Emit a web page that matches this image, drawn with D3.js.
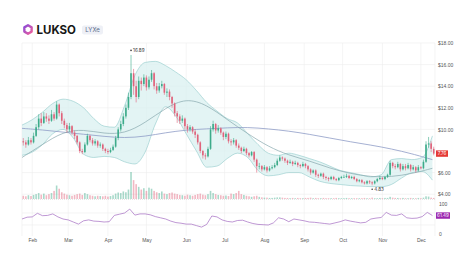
<!DOCTYPE html>
<html lang="en">
<head>
<meta charset="utf-8">
<title>LUKSO LYXe</title>
<script src="https://cdn.jsdelivr.net/npm/d3@7"></script>
<style>
  body { margin: 0; background: #fff; }
  svg { display: block; font-family: "Inter", "Liberation Sans", sans-serif; }
  .grid line { stroke: #ededed; stroke-width: 0.6; }
  .axis text { fill: #555; font-size: 5px; }
  .axis path, .axis line { display: none; }
</style>
</head>
<body>
<script>
// two-day candles starting 24 Jan, open = previous close
const firstOpen = 8.9
const closes = [8.8,8.6,9.0,8.8,9.4,10.2,11.0,10.6,11.2,11.0,
  10.8,11.4,11.0,12.3,11.5,10.8,10.4,10.0,10.3,9.7,
  9.4,8.8,8.0,7.9,8.6,9.4,9.0,8.7,8.9,8.5,
  8.6,8.2,8.0,7.9,8.1,8.4,9.2,10.0,10.5,11.2,
  12.0,13.0,15.2,14.0,13.0,14.5,14.2,14.8,13.9,14.6,
  15.2,14.0,13.6,14.0,14.2,13.4,13.5,13.0,12.4,11.5,
  11.2,10.8,11.0,10.3,10.0,10.2,9.8,9.5,8.8,8.0,
  7.6,7.5,8.2,10.0,10.5,9.9,10.1,9.7,9.3,9.6,
  8.9,8.8,9.0,8.5,8.3,8.0,8.2,7.8,7.6,7.9,
  7.2,6.6,6.6,6.3,6.5,6.2,6.4,6.5,6.7,7.1,
  7.4,7.3,7.1,6.9,7.0,6.8,6.9,6.7,6.6,6.8,
  6.6,6.3,6.0,6.2,5.8,5.7,5.9,5.6,5.5,5.4,
  5.6,5.4,5.3,5.5,5.6,5.6,5.7,5.5,5.6,5.4,
  5.2,5.3,5.1,5.0,5.2,5.1,5.0,5.2,5.4,5.5,
  5.4,5.6,5.8,6.9,6.6,6.5,6.8,6.3,6.6,6.4,
  6.7,6.3,6.5,6.2,6.5,6.4,7.0,8.6,8.7,8.2,
  7.76]
const highs = [9.2,9.0,9.3,9.2,9.7,10.5,11.4,11.5,11.6,11.5,
  11.3,11.8,11.6,12.6,12.4,11.7,11.0,10.6,10.6,10.4,
  9.9,9.5,8.9,8.2,8.8,9.6,9.5,9.2,9.1,9.0,
  8.8,8.7,8.3,8.2,8.3,8.6,9.4,10.2,10.8,11.5,
  12.3,13.4,16.89,15.6,14.5,14.9,14.8,15.1,15.0,14.9,
  15.5,15.3,14.3,14.3,14.5,14.3,13.8,13.7,13.1,12.5,
  11.7,11.4,11.3,11.1,10.5,10.4,10.3,10.0,9.6,8.9,
  8.1,7.8,8.4,10.3,10.8,10.6,10.4,10.2,9.8,9.8,
  9.7,9.1,9.2,9.1,8.7,8.4,8.4,8.3,7.9,8.0,
  8.0,7.3,6.9,6.7,6.7,6.6,6.6,6.7,6.9,7.3,
  7.6,7.5,7.4,7.2,7.2,7.1,7.1,7.0,6.8,7.0,
  6.9,6.7,6.4,6.3,6.3,5.9,6.0,6.0,5.7,5.6,
  5.7,5.7,5.5,5.6,5.7,5.8,5.9,5.8,5.7,5.7,
  5.5,5.4,5.4,5.2,5.3,5.3,5.2,5.3,5.5,5.7,
  5.6,5.7,5.9,7.1,7.0,6.8,7.0,6.9,6.8,6.8,
  6.9,6.8,6.7,6.6,6.7,6.6,7.2,8.9,9.3,8.9,
  8.4]
const lows = [8.5,8.3,8.5,8.6,8.7,9.3,10.0,10.3,10.5,10.7,
  10.5,10.7,10.8,10.9,11.2,10.5,10.1,9.7,9.8,9.5,
  9.1,8.6,7.8,7.7,7.8,8.5,8.8,8.5,8.5,8.3,
  8.3,8.0,7.8,7.7,7.8,8.0,8.3,9.0,9.8,10.3,
  11.0,11.8,12.8,13.2,12.5,12.8,13.6,14.0,13.6,13.7,
  14.4,13.7,13.3,13.4,13.8,13.2,13.0,12.7,12.0,11.2,
  10.6,10.5,10.6,10.0,9.7,9.8,9.6,9.2,8.6,7.8,
  7.3,7.2,7.4,8.1,9.8,9.6,9.7,9.5,9.0,9.1,
  8.7,8.5,8.6,8.3,8.1,7.8,7.9,7.6,7.4,7.5,
  7.0,6.0,6.3,6.1,6.2,6.0,6.1,6.3,6.4,6.6,
  7.0,7.1,6.9,6.7,6.8,6.6,6.7,6.5,6.4,6.5,
  6.4,6.1,5.8,5.9,5.6,5.5,5.6,5.4,5.3,5.2,
  5.3,5.3,5.2,5.2,5.4,5.5,5.5,5.4,5.4,5.3,
  5.1,5.1,5.0,4.9,4.9,4.95,4.83,4.9,5.1,5.3,
  5.3,5.3,5.5,5.7,6.4,6.3,6.4,6.1,6.2,6.2,
  6.3,6.1,6.2,6.0,6.1,6.3,6.3,6.9,8.3,7.9,
  7.6]
// volume, relative units (100 = tallest bar)
const volumes = [12,10,14,11,15,18,22,16,20,14,
  18,22,30,50,38,25,20,16,14,12,
  15,18,20,15,22,18,14,12,10,12,
  11,10,12,9,11,14,20,24,22,28,
  25,35,100,70,55,45,35,40,30,42,
  38,30,25,22,28,20,18,22,24,20,
  18,15,14,12,16,14,12,15,18,20,
  16,14,18,30,22,18,15,14,12,13,
  11,20,18,22,30,18,15,12,10,8,
  10,12,8,6,5,5,4,4,5,6,
  6,5,4,4,3,4,3,4,3,3,
  4,4,5,3,4,3,3,4,3,3,
  3,3,4,3,3,3,4,3,3,3,
  3,3,3,4,3,3,5,3,3,4,
  3,4,4,8,5,4,4,3,4,3,
  3,4,3,3,4,3,5,10,9,5,
  4]
// bollinger band, every 4th candle
const bandUpper = [10.4,10.9,11.6,12.4,12.8,12.6,12.0,11.0,10.3,10.2,12.2,15.0,16.2,16.3,15.9,15.3,14.6,13.6,12.5,11.7,
  11.0,10.6,9.6,8.6,7.8,7.6,7.8,7.6,7.3,7.0,6.6,6.2,6.0,5.8,5.6,5.8,7.2,7.3,7.2,7.4,9.4]
const bandLower = [7.6,7.9,8.6,9.6,10.0,9.2,7.7,7.4,7.5,7.4,7.0,6.8,7.9,10.5,12.1,11.2,9.6,8.0,6.5,6.6,
  7.3,7.8,7.4,6.2,5.7,5.8,6.0,6.0,5.6,5.2,5.0,4.9,4.8,4.75,4.7,4.7,4.9,5.5,6.0,6.1,5.3]
// moving averages, every 8th candle
const maLong = [10.1,9.95,9.75,9.55,9.35,9.2,9.35,9.7,9.95,10.05,10.15,10.2,10.05,9.85,9.55,9.2,8.85,8.55,8.2,7.75,7.2]
const maMid = [7.4,8.6,9.8,10.0,9.6,9.6,10.6,12.0,12.9,12.3,10.9,9.6,8.4,7.6,7.1,6.4,5.9,5.6,5.6,5.9,6.4]
// rsi, every 2nd candle
const rsi = [50,56,57,69,61,62,67,57,50,47,
  40,33,44,47,43,42,40,41,62,66,
  70,83,63,67,67,64,58,54,50,43,
  38,36,33,33,28,23,32,60,57,47,
  42,40,45,46,40,35,32,31,30,37,
  54,50,41,50,47,44,40,39,37,35,
  33,37,41,47,43,40,37,39,50,53,
  55,72,63,62,67,54,52,53,58,72,
  61.49]
const priceTicks = [4, 6, 8, 10, 12, 14, 16, 18]
// $8.00 sits under the last-price badge, so it is left out of the labels
const priceLabels = [4, 6, 10, 12, 14, 16, 18]

let w = 474, h = 266
let left = 22, right = 435
let upColor = "#3dab8a", downColor = "#e0627a"

let start = new Date(2022, 0, 24)
let dates = closes.map((c, i) => d3.timeDay.offset(start, 2 * i))
let opens = closes.map((c, i) => i == 0 ? firstOpen : closes[i - 1])

let x = d3.scaleTime().domain([start, new Date(2022, 11, 12)]).range([left, right])
let y = d3.scaleLinear().domain([4, 18]).range([194.2, 43])
let yVol = d3.scaleLinear().domain([0, 100]).range([199, 172])
let yRsi = d3.scaleLinear().domain([0, 100]).range([234, 204])
let step = x(d3.timeDay.offset(start, 2)) - x(start)
let cx = (i) => x(dates[i]) + step / 2
let bodyW = step * 0.62

let svg = d3.select("body").append("svg").attr("width", w).attr("height", h)

// header
let defs = svg.append("defs")
let grad = defs.append("linearGradient").attr("id", "logo").attr("x1", 0).attr("y1", 0).attr("x2", 1).attr("y2", 1)
grad.append("stop").attr("offset", "0%").attr("stop-color", "#8a4bd8")
grad.append("stop").attr("offset", "100%").attr("stop-color", "#ee5f9c")
let hex = d3.range(6).map(k => {
  let a = Math.PI / 3 * k + Math.PI / 6
  return [28 + 4.2 * Math.cos(a), 29.5 + 4.2 * Math.sin(a)]
})
svg.append("path").attr("d", d3.line().curve(d3.curveLinearClosed)(hex))
  .attr("fill", "#fff").attr("stroke", "url(#logo)").attr("stroke-width", 2.4).attr("stroke-linejoin", "round")
svg.append("text").attr("x", 36.5).attr("y", 34).text("LUKSO")
  .attr("font-size", 11.5).attr("font-weight", 700).attr("fill", "#161616")
svg.append("rect").attr("x", 82).attr("y", 25.5).attr("width", 21).attr("height", 9).attr("rx", 2).attr("fill", "#eef0f6")
svg.append("text").attr("x", 92.5).attr("y", 32.2).attr("text-anchor", "middle").text("LYXe")
  .attr("font-size", 6).attr("fill", "#5b6a8c")

// grid
let grid = svg.append("g").attr("class", "grid")
grid.selectAll(".v").data(x.ticks(d3.timeMonth.every(1))).enter().append("line")
  .attr("x1", d => x(d)).attr("x2", d => x(d)).attr("y1", 43).attr("y2", 236)
grid.selectAll(".h").data(priceTicks).enter().append("line")
  .attr("x1", left).attr("x2", right).attr("y1", d => y(d)).attr("y2", d => y(d))
grid.selectAll(".r").data([70, 30]).enter().append("line")
  .attr("x1", left).attr("x2", right).attr("y1", d => yRsi(d)).attr("y2", d => yRsi(d))
grid.append("line").attr("x1", left).attr("x2", left).attr("y1", 43).attr("y2", 236)
grid.append("line").attr("x1", right).attr("x2", right).attr("y1", 43).attr("y2", 236)
svg.append("line").attr("x1", left).attr("x2", right).attr("y1", 199.5).attr("y2", 199.5)
  .attr("stroke", "#d6d6d6").attr("stroke-width", 0.6).attr("stroke-dasharray", "1,1")

// volume
svg.append("g").selectAll("rect").data(volumes).enter().append("rect")
  .attr("x", (d, i) => cx(i) - bodyW / 2).attr("width", bodyW)
  .attr("y", d => yVol(d)).attr("height", d => yVol(0) - yVol(d))
  .attr("fill", (d, i) => closes[i] >= opens[i] ? upColor : downColor).attr("opacity", 0.45)

// bollinger band
let bandDates = bandUpper.map((d, k) => dates[4 * k])
let bandG = svg.append("g")
bandG.append("path").datum(bandUpper)
  .attr("d", d3.area().x((d, k) => x(bandDates[k])).y0((d, k) => y(bandLower[k])).y1(d => y(d)).curve(d3.curveMonotoneX))
  .attr("fill", "#d9f0f0").attr("opacity", 0.75)
;[bandUpper, bandLower].forEach(arr => {
  bandG.append("path").datum(arr)
    .attr("d", d3.line().x((d, k) => x(bandDates[k])).y(d => y(d)).curve(d3.curveMonotoneX))
    .attr("fill", "none").attr("stroke", "#8ecaca").attr("stroke-width", 0.6)
})

// moving averages
let maDates = maLong.map((d, k) => dates[8 * k])
let maLine = d3.line().x((d, k) => x(maDates[k])).y(d => y(d)).curve(d3.curveBasis)
svg.append("path").datum(maLong).attr("d", maLine)
  .attr("fill", "none").attr("stroke", "#8e9cc6").attr("stroke-width", 0.8)
svg.append("path").datum(maMid).attr("d", maLine)
  .attr("fill", "none").attr("stroke", "#86a7ad").attr("stroke-width", 0.7)

// candles
let candles = svg.append("g").selectAll("g").data(closes).enter().append("g")
  .attr("fill", (d, i) => d >= opens[i] ? upColor : downColor)
  .attr("stroke", (d, i) => d >= opens[i] ? upColor : downColor)
candles.append("line")
  .attr("x1", (d, i) => cx(i)).attr("x2", (d, i) => cx(i))
  .attr("y1", (d, i) => y(highs[i])).attr("y2", (d, i) => y(lows[i])).attr("stroke-width", 0.6)
candles.append("rect")
  .attr("x", (d, i) => cx(i) - bodyW / 2).attr("width", bodyW)
  .attr("y", (d, i) => y(Math.max(d, opens[i])))
  .attr("height", (d, i) => Math.max(0.6, Math.abs(y(d) - y(opens[i])))).attr("stroke", "none")

// high / low markers
let hiIdx = highs.indexOf(d3.max(highs)), loIdx = lows.indexOf(d3.min(lows))
svg.append("circle").attr("cx", cx(hiIdx)).attr("cy", y(highs[hiIdx]) - 4.6).attr("r", 0.8).attr("fill", "#333")
svg.append("text").attr("x", cx(hiIdx) + 2).attr("y", y(highs[hiIdx]) - 3).text(highs[hiIdx].toFixed(2))
  .attr("font-size", 4.6).attr("fill", "#333")
svg.append("circle").attr("cx", cx(loIdx)).attr("cy", y(lows[loIdx]) + 4).attr("r", 0.8).attr("fill", "#333")
svg.append("text").attr("x", cx(loIdx) + 2).attr("y", y(lows[loIdx]) + 5.6).text(lows[loIdx].toFixed(2))
  .attr("font-size", 4.6).attr("fill", "#333")

// rsi
let rsiDates = rsi.map((d, k) => dates[2 * k])
svg.append("path").datum(rsi)
  .attr("d", d3.line().x((d, k) => x(rsiDates[k])).y(d => yRsi(d)))
  .attr("fill", "none").attr("stroke", "#a46cc2").attr("stroke-width", 0.7)

// axes
svg.append("g").attr("class", "axis").attr("transform", "translate(437,0)")
  .call(d3.axisRight(y).tickValues(priceLabels).tickSize(0).tickPadding(1).tickFormat(d => "$" + d.toFixed(2)))
svg.append("g").attr("class", "axis").attr("transform", "translate(437,0)")
  .call(d3.axisRight(yRsi).tickValues([0, 100]).tickSize(0).tickPadding(2))
svg.append("g").attr("class", "axis").attr("transform", "translate(0,237)")
  .call(d3.axisBottom(x).ticks(d3.timeMonth.every(1)).tickSize(0).tickPadding(1).tickFormat(d3.timeFormat("%b")))

// last value badges
let lastPrice = closes[closes.length - 1], lastRsi = rsi[rsi.length - 1]
svg.append("rect").attr("x", 436).attr("y", y(lastPrice) - 3.2).attr("width", 12).attr("height", 6.4).attr("fill", "#e53935")
svg.append("text").attr("x", 442).attr("y", y(lastPrice) + 1.7).attr("text-anchor", "middle").text(lastPrice.toFixed(2))
  .attr("font-size", 4.6).attr("fill", "#fff")
svg.append("rect").attr("x", 436).attr("y", yRsi(lastRsi) - 3.2).attr("width", 14).attr("height", 6.4).attr("fill", "#9c27b0")
svg.append("text").attr("x", 443).attr("y", yRsi(lastRsi) + 1.7).attr("text-anchor", "middle").text(lastRsi.toFixed(2))
  .attr("font-size", 4.6).attr("fill", "#fff")
</script>
</body>
</html>
